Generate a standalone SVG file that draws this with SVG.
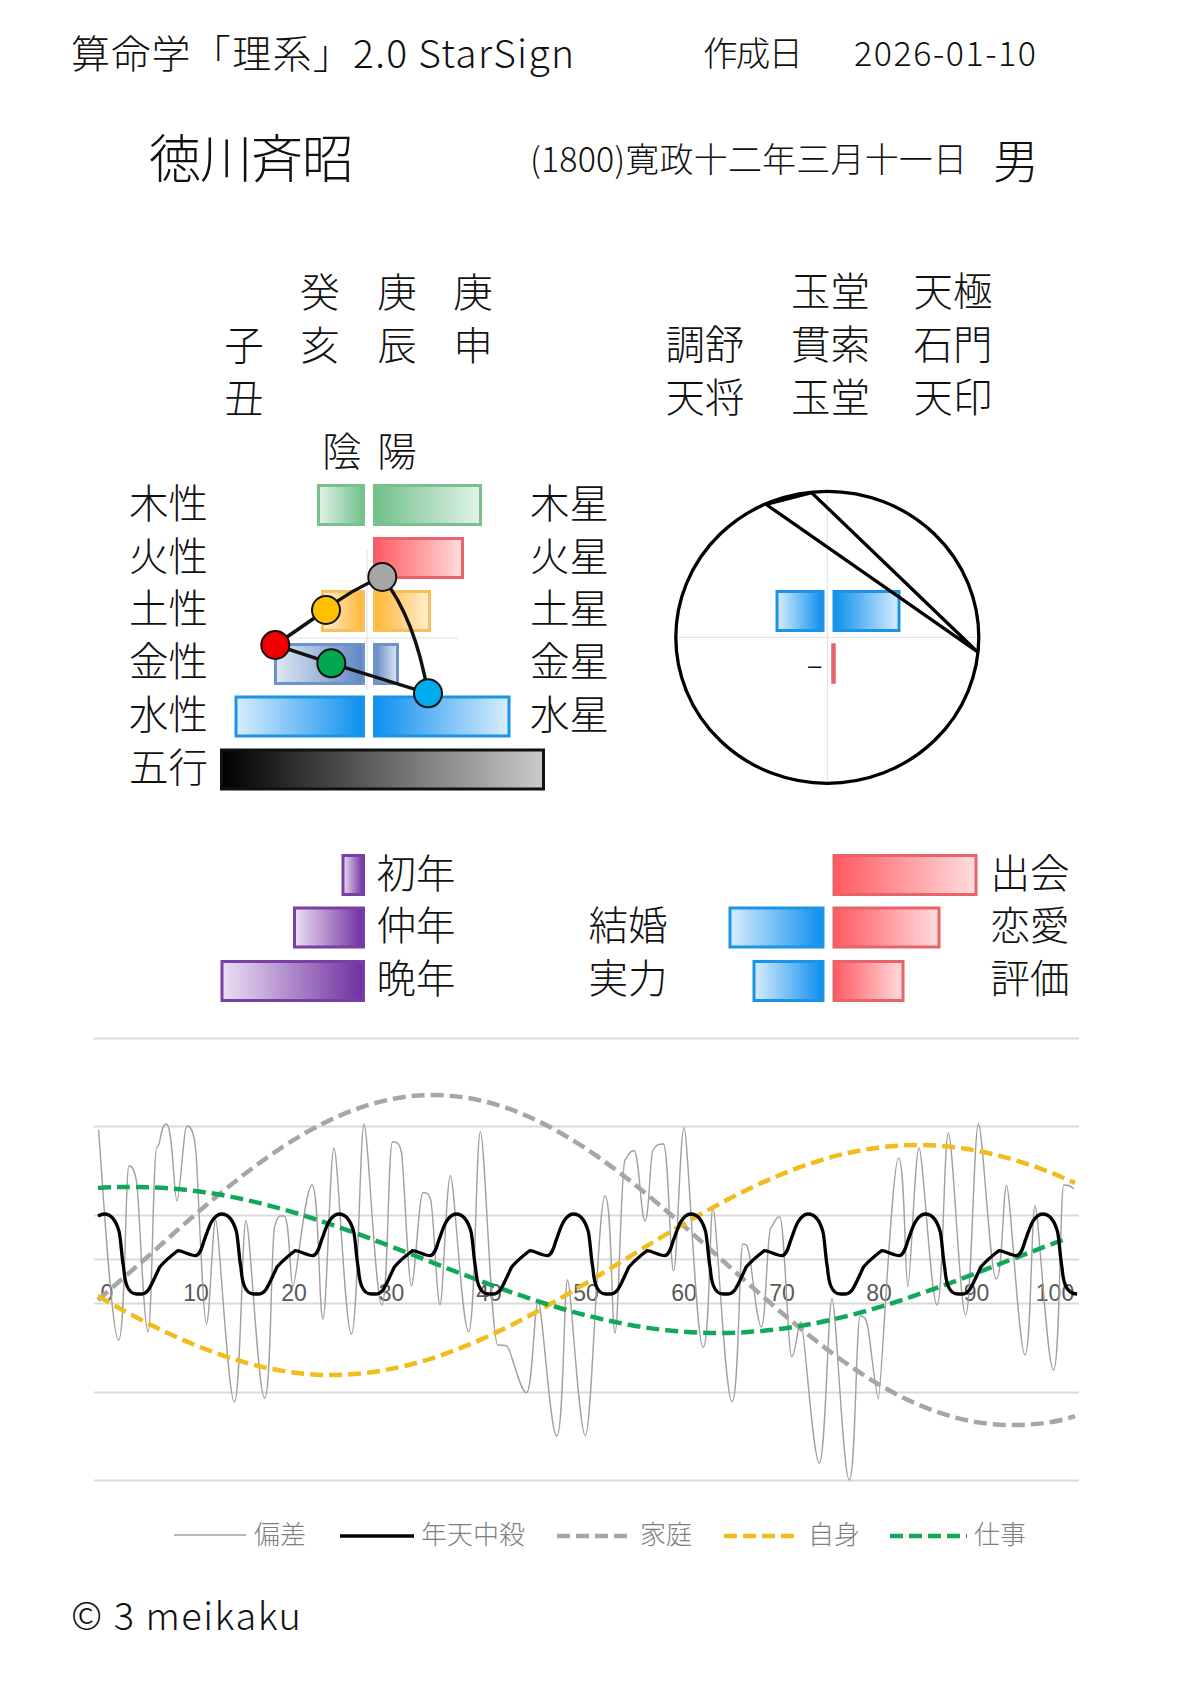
<svg xmlns="http://www.w3.org/2000/svg" width="1200" height="1703" viewBox="0 0 1200 1703">
<style>
text{font-family:"Noto Sans CJK JP","Noto Sans",sans-serif;font-weight:300;fill:#111}
.l{font-size:39.500px;text-anchor:middle}
.ax{font-family:"Liberation Sans",sans-serif;font-size:23px;fill:#595959;text-anchor:middle}
.lg{font-size:26px;fill:#7f7f7f}
.grid{stroke:#d9d9d9;stroke-width:2;fill:none}
.fine{stroke:#e0e0e0;stroke-width:1;fill:none}
.dash{fill:none;stroke-width:4.500;stroke-dasharray:13 6}
.b{stroke-width:3}
.g{stroke:#7ac08f}.r{stroke:#e8636a}.o{stroke:#f6c05e}.s{stroke:#6d93c8}.w{stroke:#1b94e6}.p{stroke:#7a3fa5}
.dot{stroke:#111;stroke-width:2}
</style>
<defs>
<linearGradient id="gL"><stop offset="0" stop-color="#e2f3e8"/><stop offset="1" stop-color="#70c08a"/></linearGradient>
<linearGradient id="gR"><stop offset="0" stop-color="#70c08a"/><stop offset="1" stop-color="#e2f3e8"/></linearGradient>
<linearGradient id="rR"><stop offset="0" stop-color="#ff5a60"/><stop offset="1" stop-color="#ffdcde"/></linearGradient>
<linearGradient id="oL"><stop offset="0" stop-color="#ffeed2"/><stop offset="1" stop-color="#ffb733"/></linearGradient>
<linearGradient id="oR"><stop offset="0" stop-color="#ffb733"/><stop offset="1" stop-color="#ffeed2"/></linearGradient>
<linearGradient id="sL"><stop offset="0" stop-color="#e0e8f4"/><stop offset="1" stop-color="#5f86c2"/></linearGradient>
<linearGradient id="sR"><stop offset="0" stop-color="#5f86c2"/><stop offset="1" stop-color="#e0e8f4"/></linearGradient>
<linearGradient id="wL"><stop offset="0" stop-color="#d8edfd"/><stop offset="1" stop-color="#0d8fef"/></linearGradient>
<linearGradient id="wR"><stop offset="0" stop-color="#0d8fef"/><stop offset="1" stop-color="#d8edfd"/></linearGradient>
<linearGradient id="pL"><stop offset="0" stop-color="#ebe0f4"/><stop offset="1" stop-color="#6f2f9f"/></linearGradient>
<linearGradient id="kR"><stop offset="0" stop-color="#000"/><stop offset="1" stop-color="#cacaca"/></linearGradient>
</defs>
<rect width="1200" height="1703" fill="#fff"/>

<g id="header">
<text x="71" y="68" font-size="39" textLength="503">算命学「理系」2.0 StarSign</text>
<text x="703" y="66" font-size="34.500" textLength="100">作成日</text>
<text x="854" y="66" font-size="34" textLength="182">2026-01-10</text>
<text x="149" y="178" font-size="52" textLength="205">徳川斉昭</text>
<text x="530" y="172" font-size="34" textLength="437">(1800)寛政十二年三月十一日</text>
<text x="993" y="178" font-size="46">男</text>
</g>

<g id="pillars">
<text class="l" x="320" y="307">癸</text><text class="l" x="397" y="307">庚</text><text class="l" x="473" y="307">庚</text>
<text class="l" x="244" y="360">子</text><text class="l" x="320" y="360">亥</text><text class="l" x="397" y="360">辰</text><text class="l" x="473" y="360">申</text>
<text class="l" x="244" y="413">丑</text>
</g>
<g id="stars">
<text class="l" x="830.500" y="306">玉堂</text><text class="l" x="953" y="306">天極</text>
<text class="l" x="705" y="359">調舒</text><text class="l" x="830.500" y="359">貫索</text><text class="l" x="953" y="359">石門</text>
<text class="l" x="705" y="412">天将</text><text class="l" x="830.500" y="412">玉堂</text><text class="l" x="953" y="412">天印</text>
</g>

<g id="gogyo">
<line class="fine" x1="367" y1="550" x2="367" y2="690"/>
<line class="fine" x1="290" y1="638" x2="458" y2="638"/>
<text class="l" x="342" y="466">陰</text><text class="l" x="397" y="466">陽</text>
<text class="l" x="168.500" y="518">木性</text><text class="l" x="168.500" y="571">火性</text><text class="l" x="168.500" y="623">土性</text><text class="l" x="168.500" y="676">金性</text><text class="l" x="168.500" y="729">水性</text><text class="l" x="168.500" y="782">五行</text>
<text class="l" x="569.500" y="518">木星</text><text class="l" x="569.500" y="571">火星</text><text class="l" x="569.500" y="623">土星</text><text class="l" x="569.500" y="676">金星</text><text class="l" x="569.500" y="729">水星</text>
<rect class="b g" x="318.500" y="485.500" width="45" height="39" fill="url(#gL)"/>
<rect class="b g" x="374.500" y="485.500" width="106" height="39" fill="url(#gR)"/>
<rect class="b r" x="374.500" y="538.500" width="88" height="39" fill="url(#rR)"/>
<rect class="b o" x="322.500" y="591.500" width="41" height="39" fill="url(#oL)"/>
<rect class="b o" x="374.500" y="591.500" width="55" height="39" fill="url(#oR)"/>
<rect class="b s" x="275.500" y="644.500" width="88" height="39" fill="url(#sL)"/>
<rect class="b s" x="374.500" y="644.500" width="23" height="39" fill="url(#sR)"/>
<rect class="b w" x="236" y="697" width="127.500" height="39" fill="url(#wL)"/>
<rect class="b w" x="374.500" y="697" width="134.500" height="39" fill="url(#wR)"/>
<rect x="221.500" y="750" width="322" height="39" fill="url(#kR)" stroke="#111" stroke-width="3"/>
</g>

<g id="connectors">
<path d="M382.300,577Q350,590 326,610L275.300,645L331.300,663.300L428,693.300Q415,618 382.300,577" fill="none" stroke="#111" stroke-width="3.500"/>
</g>
<g id="node-gray"><circle class="dot" cx="382.300" cy="577" r="14" fill="#a6a6a6"/></g>
<g id="node-yellow"><circle class="dot" cx="326" cy="610" r="14" fill="#ffc000"/></g>
<g id="node-red"><circle class="dot" cx="275.300" cy="645" r="14" fill="#f00000"/></g>
<g id="node-green"><circle class="dot" cx="331.300" cy="663.300" r="14" fill="#00a650"/></g>
<g id="node-blue"><circle class="dot" cx="428" cy="693.300" r="14" fill="#00aaee"/></g>

<g id="circle-chart">
<line class="fine" x1="827.300" y1="491" x2="827.300" y2="783"/>
<line class="fine" x1="675" y1="637.300" x2="979" y2="637.300"/>
<rect class="b w" x="777" y="591.500" width="46" height="39" fill="url(#wL)"/>
<rect class="b w" x="834" y="591.500" width="65" height="39" fill="url(#wR)"/>
<rect x="832" y="644" width="3" height="39" fill="#e8636a" stroke="#e8636a" stroke-width="1.500"/>
<text x="808" y="673" font-size="24" style="font-family:'Liberation Sans',sans-serif">–</text>
<ellipse cx="827.300" cy="637.300" rx="151.500" ry="146" fill="none" stroke="#000" stroke-width="3.300"/>
<path d="M766,504.300L811.700,492.700L977.300,651.700Z" fill="none" stroke="#000" stroke-width="3.300"/>
</g>

<g id="periods">
<rect class="b p" x="343" y="855.500" width="20.500" height="39" fill="url(#pL)"/>
<rect class="b p" x="294.500" y="908" width="69" height="39" fill="url(#pL)"/>
<rect class="b p" x="222" y="961.500" width="141.500" height="39" fill="url(#pL)"/>
<text class="l" x="416" y="888">初年</text><text class="l" x="416" y="940">仲年</text><text class="l" x="416" y="993">晩年</text>
</g>
<g id="balance">
<rect class="b r" x="834" y="855.500" width="142" height="39" fill="url(#rR)"/>
<rect class="b w" x="730" y="908" width="93" height="39" fill="url(#wL)"/>
<rect class="b r" x="834" y="908" width="105" height="39" fill="url(#rR)"/>
<rect class="b w" x="754" y="961.500" width="69" height="39" fill="url(#wL)"/>
<rect class="b r" x="834" y="961.500" width="69" height="39" fill="url(#rR)"/>
<text class="l" x="1030" y="888">出会</text><text class="l" x="1030" y="940">恋愛</text><text class="l" x="1030" y="993">評価</text>
<text class="l" x="628" y="940">結婚</text><text class="l" x="628" y="993">実力</text>
</g>

<g id="chart">
<line class="grid" x1="94" y1="1038.500" x2="1079" y2="1038.500"/>
<line class="grid" x1="94" y1="1126.500" x2="1079" y2="1126.500"/>
<line class="grid" x1="94" y1="1215.500" x2="1079" y2="1215.500"/>
<line class="grid" x1="94" y1="1259.500" x2="1079" y2="1259.500"/>
<line class="grid" x1="94" y1="1303.500" x2="1079" y2="1303.500"/>
<line class="grid" x1="94" y1="1392.500" x2="1079" y2="1392.500"/>
<line class="grid" x1="94" y1="1480.500" x2="1079" y2="1480.500"/>
<text class="ax" x="107" y="1301">0</text><text class="ax" x="196" y="1301">10</text><text class="ax" x="294" y="1301">20</text><text class="ax" x="391.500" y="1301">30</text><text class="ax" x="489" y="1301">40</text><text class="ax" x="586" y="1301">50</text><text class="ax" x="684" y="1301">60</text><text class="ax" x="782" y="1301">70</text><text class="ax" x="879" y="1301">80</text><text class="ax" x="976.500" y="1301">90</text><text class="ax" x="1055" y="1301">100</text>
<path id="hensa" fill="none" stroke="#a0a0a0" stroke-width="1.400" d="M98.600,1130C103,1190 112,1340 118.600,1340S125.400,1166 129,1166S135,1170 137,1185S144,1332 148,1332S153,1147 157,1147S160,1124 166.400,1124S174,1201 177,1201S183.500,1126 187,1126S194,1130 196,1153S203,1324 206.400,1324S212.500,1220 215.700,1220S228,1402 234.300,1402S242,1220.700 246,1220.700S258,1398 264.600,1398S271,1240 274.600,1227S279,1216 284.300,1216S290,1286.700 293,1286.700S305,1185 312,1185S319,1319 322.900,1319S330,1148 334,1148S345,1334 351.400,1334S360,1124 364,1124S375.500,1305 381.800,1305S388,1142 392.500,1142S399,1142 401.400,1152S408,1285.700 411.400,1285.700S419,1192.700 422.900,1192.700S428,1192 430.700,1200S437,1305 440,1305S446.500,1175.700 450.400,1175.700S462,1331.700 468.600,1331.700S476,1131.700 480.400,1131.700S491,1345 497.900,1345S503,1345 506.800,1346S520,1392.700 526.400,1392.700S534,1301.700 538.200,1301.700S550,1436 556.800,1436S564,1280 567.500,1280S579,1435.700 585.400,1435.700S598,1196 605,1196S611.500,1333 615,1333S621,1165 625,1160S629,1150.700 634,1150.700S641,1221 645,1221S650,1155 653,1150S658,1144 663.300,1144S670,1270.700 673.600,1270.700S680,1127.700 684,1127.700S696,1347.300 703,1347.300S709.500,1208 713,1208S725,1401.700 732,1401.700S739,1244 743,1244S747,1244 749.400,1255S757,1327 761.400,1327S767,1232 770.700,1228S775,1216.700 779.700,1216.700S788,1356.700 791.700,1356.700S798,1321.700 801,1321.700S813,1463 819.300,1463S828,1299 832,1299S843,1480 849.300,1480S856,1316 860.300,1316S866,1318 868,1328S876,1399 878.500,1399S892,1158 898.500,1158S905,1286.700 907.800,1286.700S915,1148 919,1148S931,1305 937,1305S944,1133 948.400,1133S960,1315 965.600,1315S974,1124 978.400,1124S990,1279 996.300,1279S1003,1185.700 1006.600,1185.700S1019,1355 1025,1355S1031.500,1205.700 1035,1205.700S1047,1370 1053.500,1370S1060,1185 1063.800,1185S1070,1185 1074,1189"/>
<path id="katei" class="dash" stroke="#a6a6a6" d="M98,1300L144,1260C238,1175.500 328,1095 433,1095C538,1095 628,1175.500 722,1260C816,1344.500 906,1425 1011,1425C1033,1425 1055,1423 1075,1416"/>
<path id="jishin" class="dash" stroke="#f0bc1e" d="M98,1296C175,1341 253,1375 330,1375C436,1375 528,1319 624,1260C720,1201 812,1145 918,1145C970,1145 1023,1159 1075,1183"/>
<path id="shigoto" class="dash" stroke="#12a85a" d="M98,1188C110,1187 120,1187 134,1187C240,1187 331,1223 426,1260C521,1297 612,1333 718,1333C824,1333 915,1297 1010,1260C1030,1252.500 1049,1245 1068,1238"/>
<path id="tenchu" fill="none" stroke="#000" stroke-width="3.300" d="M98,1216C100,1215 102,1214 104.200,1214c7,0 12,7 15,18c2,10 2.500,26 4.500,36c1,12 3,26 13,26h4c8,0 10,-8 19,-27c5,-6 11,-11 18,-16.300c5,0 12,5 18,5c4,-1 6,-7 8,-14c3,-8 5,-15 8,-20c3,-5 6,-7.700 9.800,-7.700c7,0 12,7 15,18c2,10 2.500,26 4.500,36c1,12 3,26 13,26h4c8,0 10,-8 19,-27c5,-6 11,-11 18,-16.300c5,0 12,5 18,5c4,-1 6,-7 8,-14c3,-8 5,-15 8,-20c3,-5 6,-7.700 9.800,-7.700c7,0 12,7 15,18c2,10 2.500,26 4.500,36c1,12 3,26 13,26h4c8,0 10,-8 19,-27c5,-6 11,-11 18,-16.300c5,0 12,5 18,5c4,-1 6,-7 8,-14c3,-8 5,-15 8,-20c3,-5 6,-7.700 9.800,-7.700c7,0 12,7 15,18c2,10 2.500,26 4.500,36c1,12 3,26 13,26h4c8,0 10,-8 19,-27c5,-6 11,-11 18,-16.300c5,0 12,5 18,5c4,-1 6,-7 8,-14c3,-8 5,-15 8,-20c3,-5 6,-7.700 9.800,-7.700c7,0 12,7 15,18c2,10 2.500,26 4.500,36c1,12 3,26 13,26h4c8,0 10,-8 19,-27c5,-6 11,-11 18,-16.300c5,0 12,5 18,5c4,-1 6,-7 8,-14c3,-8 5,-15 8,-20c3,-5 6,-7.700 9.800,-7.700c7,0 12,7 15,18c2,10 2.500,26 4.500,36c1,12 3,26 13,26h4c8,0 10,-8 19,-27c5,-6 11,-11 18,-16.300c5,0 12,5 18,5c4,-1 6,-7 8,-14c3,-8 5,-15 8,-20c3,-5 6,-7.700 9.800,-7.700c7,0 12,7 15,18c2,10 2.500,26 4.500,36c1,12 3,26 13,26h4c8,0 10,-8 19,-27c5,-6 11,-11 18,-16.300c5,0 12,5 18,5c4,-1 6,-7 8,-14c3,-8 5,-15 8,-20c3,-5 6,-7.700 9.800,-7.700c7,0 12,7 15,18c2,10 2.500,26 4.500,36c1,12 3,26 13,26h4c8,0 10,-8 19,-27c5,-6 11,-11 18,-16.300c5,0 12,5 18,5c4,-1 6,-7 8,-14c3,-8 5,-15 8,-20c3,-5 6,-7.700 9.800,-7.700c7,0 12,7 15,18c2,10 2.500,26 4.500,36c1,12 3,26 15,26"/>
</g>

<g id="legend">
<line x1="174" y1="1535" x2="246" y2="1535" stroke="#a0a0a0" stroke-width="1.400"/><text class="lg" x="254" y="1544">偏差</text>
<line x1="340" y1="1536" x2="414" y2="1536" stroke="#000" stroke-width="3.300"/><text class="lg" x="421" y="1544">年天中殺</text>
<line class="dash" x1="557" y1="1536" x2="633" y2="1536" stroke="#a6a6a6"/><text class="lg" x="640" y="1544">家庭</text>
<line class="dash" x1="724" y1="1536" x2="800" y2="1536" stroke="#f0bc1e"/><text class="lg" x="808" y="1544">自身</text>
<line class="dash" x1="890" y1="1536" x2="967" y2="1536" stroke="#12a85a"/><text class="lg" x="974" y="1544">仕事</text>
</g>
<g id="footer"><text x="71" y="1630" font-size="38" textLength="230">© 3 meikaku</text></g>
</svg>
